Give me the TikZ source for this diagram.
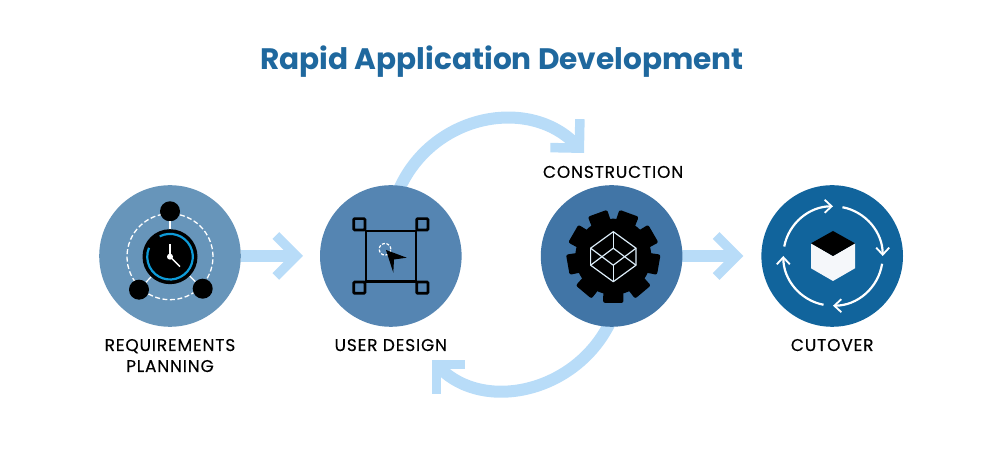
\documentclass[tikz,border=0pt]{standalone}
\usepackage{fontspec}
\setmainfont{Poppins}
\newfontfamily\labelfont{Poppins}[LetterSpace=4.8,FakeBold=0.25]
\usetikzlibrary{arrows.meta,positioning,backgrounds}

\definecolor{flowblue}{HTML}{B8DCF8}
\definecolor{titleblue}{HTML}{1F689E}
\definecolor{phasea}{HTML}{6795BA}
\definecolor{phaseb}{HTML}{5585B2}
\definecolor{phasec}{HTML}{4175A6}
\definecolor{phased}{HTML}{11649C}
\definecolor{ringblue}{HTML}{0E9BD8}
\definecolor{cubewhite}{HTML}{F5F7FA}
\definecolor{wireblue}{HTML}{DDEEFA}

\begin{document}
\begin{tikzpicture}[
  x = 1pt, y = 1pt,
  phase/.style = {circle, minimum size = 141.6pt, inner sep = 0pt, outer sep = 0pt},
  label/.style = {align = center, text = black, inner sep = 0pt,
                  font = \labelfont\fontsize{17}{21}\selectfont},
  flow/.style = {draw = flowblue, line width = 12pt,
                 -{Straight Barb[length = 20.5pt, width = 41pt, line width = 9.5pt]}},
  sat/.style = {circle, fill = black, minimum size = 20pt, inner sep = 0pt},
  spoke/.style = {draw = white, line width = 1.2pt},
  handle/.style = {draw = black, line width = 2.7pt, rounded corners = 1pt,
                   minimum size = 11.3pt, inner sep = 0pt},
  wire/.style = {draw = wireblue, line width = 1.2pt},
  loopline/.style = {draw = white, line width = 2.2pt,
                     -{Straight Barb[length = 7pt, width = 13pt, line width = 1.8pt]}},
  ]
  \useasboundingbox (0,0) rectangle (1002,449);

  \node[font = \fontsize{29.6}{36}\selectfont\bfseries, text = titleblue, inner sep = 0pt]
    (title) at (502,387) {Rapid Application Development};

  % the four phases
  \node[phase, fill = phasea] (req) at (170,193) {};
  \node[phase, fill = phaseb, right = 79.2pt of req] (des) {};
  \node[phase, fill = phasec, right = 79.2pt of des] (con) {};
  \node[phase, fill = phased, right = 79pt of con] (cut) {};

  \node[label, below = 12pt of req] (reqlabel) {REQUIREMENTS\\PLANNING};
  \node[label, below = 12pt of des] (deslabel) {USER DESIGN};
  \node[label, above = 7pt of con, xshift = 1.5pt] (conlabel) {CONSTRUCTION};
  \node[label, below = 12pt of cut] (cutlabel) {CUTOVER};

  % arrows go behind the circles
  \coordinate (conin) at (584,296);
  \coordinate (desin) at (431.7,89);
  \begin{scope}[on background layer]
    \draw[flow, shorten >= 17pt] (req.east) -- (des.west);
    \draw[flow, shorten >= 18pt] (con.east) -- (cut.west);
    \draw[flow, shorten <= -3pt] (des.82) to[out = 65.7, in = 133.9, distance = 79pt] (conin);
    \draw[flow, shorten <= -3pt] (con.267) to[out = 243.2, in = -45, distance = 74pt] (desin);
  \end{scope}

  % clock icon
  \coordinate (clockc) at (170,192.3);
  \draw[white, line width = 1.3pt, dash pattern = on 5pt off 2.5pt] (clockc) circle (43);
  \node[circle, fill = black, minimum size = 55pt, inner sep = 0pt] (clock) at (clockc) {};
  \node[sat] (sattop) at (170,237.7) {};
  \node[sat] (satleft) at (139,159.3) {};
  \node[sat] (satright) at (202.7,160.3) {};
  \draw[spoke] (clock) -- (sattop);
  \draw[spoke] (clock) -- (satleft);
  \draw[spoke] (clock) -- (satright);
  \draw[ringblue, line width = 2.2pt] (clockc) ++(117:22.8) arc (117:-203:22.8);
  \node[circle, fill = white, minimum size = 6pt, inner sep = 0pt] (hub) at (clockc) {};
  \coordinate (hourtip) at ([shift = {(10,-10)}]hub.center);
  \coordinate (mintip) at ([shift = {(0,13)}]hub.center);
  \draw[white, line width = 1.4pt] (hub.center) -- (hourtip);
  \draw[white, line width = 1.4pt] (hub.center) -- (mintip);

  % frame and cursor icon
  \draw[black, line width = 2.7pt] (366,218) rectangle (416,167.5);
  \foreach \hx/\hy/\hname in {359.3/224.7/hnw, 422.3/224.7/hne, 359.3/161.3/hsw, 422.3/161.3/hse} {
    \node[handle] (\hname) at (\hx,\hy) {};
  }
  \draw[white, line width = 1.2pt, dash pattern = on 3pt off 1.6pt] (385,199.7) circle (5.8);
  \fill[black] (386,199) -- (406.7,191.3) -- (394,189.5) -- (393.3,176.3) -- cycle;

  % gear icon
  \begin{scope}[shift = {(con.center)}, shift = {(1.7,-0.7)}]
    \fill[black] (0,0) circle (38);
    \foreach \ang in {30,70,...,350} {
      \fill[black, rounded corners = 2pt] (\ang-16:36) -- (\ang-12.5:47.3)
        -- (\ang+12.5:47.3) -- (\ang+16:36) -- cycle;
    }
    \draw[wire, line join = round] (0,25) -- (22.7,8.5) -- (22.7,-8.5) -- (0,-25)
      -- (-22.7,-8.5) -- (-22.7,8.5) -- cycle;
    \draw[wire] (-22.7,8.5) -- (0,-8.5) -- (22.7,8.5);
    \draw[wire] (-22.7,-8.5) -- (0,8.5) -- (22.7,-8.5);
    \draw[wire] (0,25) -- (0,8.5);
    \draw[wire] (0,-25) -- (0,-8.5);
  \end{scope}

  % cube and loop icon
  \begin{scope}[shift = {(cut.center)}, shift = {(0.8,0)}]
    \fill[cubewhite] (-22,12.7) -- (0,0) -- (22,12.7) -- (22,-12.3) -- (0,-25) -- (-22,-12.3) -- cycle;
    \fill[black] (0,25) -- (22,12.7) -- (0,0) -- (-22,12.7) -- cycle;
    \draw[loopline] (169:49.7) arc (169:90:49.7);
    \draw[loopline] (79:49.7) arc (79:0:49.7);
    \draw[loopline] (-9:49.7) arc (-9:-90:49.7);
    \draw[loopline] (-101:49.7) arc (-101:-180:49.7);
  \end{scope}
\end{tikzpicture}
\end{document}
